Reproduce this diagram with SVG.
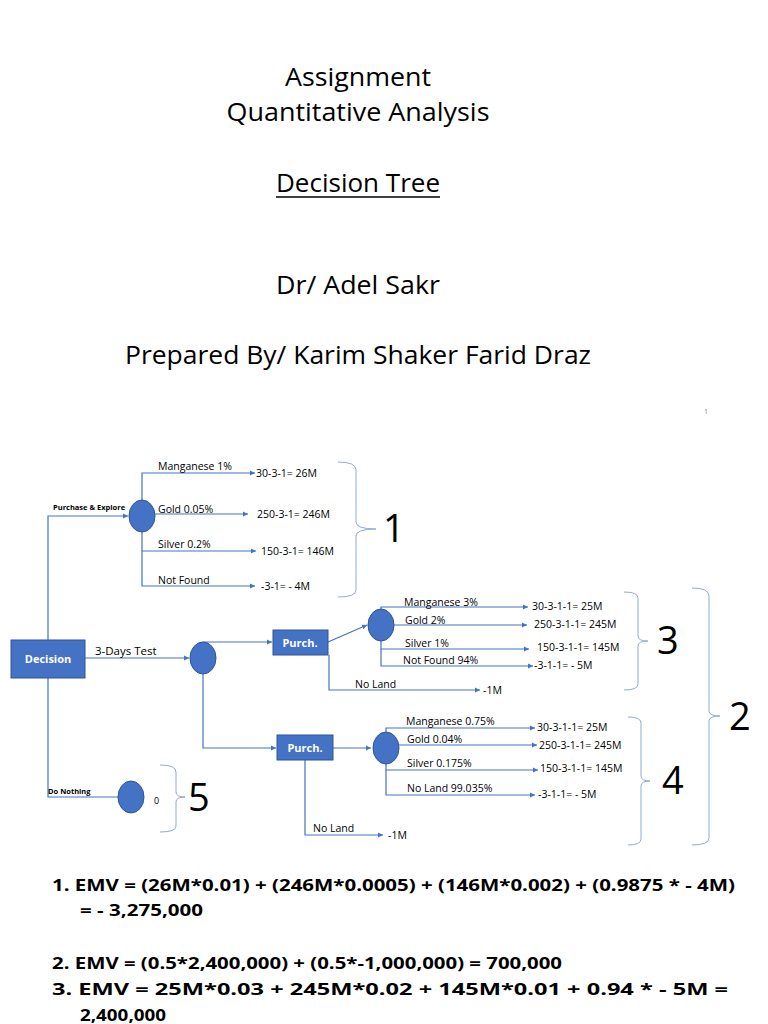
<svg xmlns="http://www.w3.org/2000/svg" width="768" height="1024" viewBox="0 0 768 1024">
<defs>
<marker id="ar" markerWidth="6" markerHeight="6" refX="5" refY="3" orient="auto" markerUnits="userSpaceOnUse"><path d="M0,0.5 L5,3 L0,5.5z" fill="#4472C4"/></marker>
<style>
text{font-family:"Open Sans","Liberation Sans",sans-serif;fill:#000}
.t{font-size:25px;text-anchor:middle}
.s{font-size:10.5px}
.xs{font-size:7.5px;font-weight:bold}
.w{font-size:11px;fill:#fff;font-weight:bold;text-anchor:middle}
.big{font-size:38px}
.b{font-size:16.5px;font-weight:bold}
.c{stroke:#4472C4;stroke-width:1.2;fill:none}
.a{marker-end:url(#ar)}
.n{fill:#4472C4;stroke:#2F5597;stroke-width:1}
.br{stroke:#8EA9DB;stroke-width:1;fill:none}
</style>
</defs>
<rect width="768" height="1024" fill="#fff"/>
<text class="t" x="358" y="86" textLength="146" lengthAdjust="spacingAndGlyphs">Assignment</text>
<text class="t" x="358" y="121" textLength="263" lengthAdjust="spacingAndGlyphs">Quantitative Analysis</text>
<text class="t" x="358" y="192" textLength="164" lengthAdjust="spacingAndGlyphs">Decision Tree</text>
<line x1="276" y1="197" x2="440" y2="197" stroke="#000" stroke-width="1.5"/>
<text class="t" x="358" y="294" textLength="164" lengthAdjust="spacingAndGlyphs">Dr/ Adel Sakr</text>
<text class="t" x="358" y="364" textLength="466" lengthAdjust="spacingAndGlyphs">Prepared By/ Karim Shaker Farid Draz</text>
<text x="704" y="414" style="font-size:7px;fill:#888">1</text>

<g id="connectors">
<path class="c a" d="M48,640 V516 H128"/>
<path class="c a" d="M142,500 V473 H255"/>
<path class="c a" d="M155,514 H248"/>
<path class="c a" d="M142,532 V551 H256"/>
<path class="c a" d="M142,551 V586 H255"/>
<path class="c a" d="M85,658 H189"/>
<path class="c a" d="M203,642 H272"/>
<path class="c a" d="M203,674 V748 H276"/>
<path class="c a" d="M328,642 L367,625"/>
<path class="c a" d="M381,609 V607 H528"/>
<path class="c a" d="M394,625 H527"/>
<path class="c a" d="M381,641 V649 H529"/>
<path class="c a" d="M381,649 V666 H533"/>
<path class="c a" d="M329,655 V690 H480"/>
<path class="c a" d="M333,748 H371"/>
<path class="c a" d="M386,732 V728 H535"/>
<path class="c a" d="M399,745 H537"/>
<path class="c a" d="M386,764 V770 H538"/>
<path class="c a" d="M386,770 V795 H535"/>
<path class="c a" d="M305,760 V835 H383"/>
<path class="c" d="M48,678 V797 H118"/>
</g>

<g id="labels">
<text class="xs" x="53" y="510">Purchase &amp; Explore</text>
<text class="s" x="158" y="470">Manganese 1%</text>
<text class="s" x="158" y="513">Gold 0.05%</text>
<text class="s" x="158" y="548">Silver 0.2%</text>
<text class="s" x="158" y="584">Not Found</text>
<text class="s" x="256" y="477">30-3-1= 26M</text>
<text class="s" x="257" y="518">250-3-1= 246M</text>
<text class="s" x="261" y="555">150-3-1= 146M</text>
<text class="s" x="261" y="590">-3-1= - 4M</text>
<text x="95" y="655" style="font-size:11.5px">3-Days  Test</text>
<text class="s" x="404" y="606">Manganese 3%</text>
<text class="s" x="405" y="624">Gold 2%</text>
<text class="s" x="405" y="647">Silver 1%</text>
<text class="s" x="403" y="664">Not Found 94%</text>
<text class="s" x="532" y="610">30-3-1-1= 25M</text>
<text class="s" x="534" y="628">250-3-1-1= 245M</text>
<text class="s" x="537" y="651">150-3-1-1= 145M</text>
<text class="s" x="534" y="669">-3-1-1= - 5M</text>
<text class="s" x="355" y="688">No Land</text>
<text class="s" x="483" y="694">-1M</text>
<text class="s" x="406" y="725">Manganese 0.75%</text>
<text class="s" x="407" y="743">Gold  0.04%</text>
<text class="s" x="407" y="767">Silver  0.175%</text>
<text class="s" x="407" y="792">No Land  99.035%</text>
<text class="s" x="537" y="731">30-3-1-1= 25M</text>
<text class="s" x="539" y="749">250-3-1-1= 245M</text>
<text class="s" x="540" y="772">150-3-1-1= 145M</text>
<text class="s" x="538" y="798">-3-1-1= - 5M</text>
<text class="s" x="313" y="832">No Land</text>
<text class="s" x="388" y="839">-1M</text>
<text class="xs" x="48" y="794">Do Nothing</text>
<text x="154" y="804" style="font-size:9px">0</text>
</g>

<g id="decision"><rect class="n" x="11" y="640" width="74" height="38"/><text class="w" x="48" y="663">Decision</text></g>
<g id="chance1"><ellipse class="n" cx="142" cy="516" rx="13" ry="16"/></g>
<g id="chance2"><ellipse class="n" cx="203" cy="658" rx="13" ry="16"/></g>
<g id="purch1"><rect class="n" x="273" y="630" width="55" height="25"/><text class="w" x="300" y="647">Purch.</text></g>
<g id="purch2"><rect class="n" x="277" y="735" width="56" height="25"/><text class="w" x="305" y="752">Purch.</text></g>
<g id="chance3"><ellipse class="n" cx="381" cy="625" rx="13" ry="16"/></g>
<g id="chance4"><ellipse class="n" cx="386" cy="748" rx="13" ry="16"/></g>
<g id="chance5"><ellipse class="n" cx="131" cy="797" rx="13" ry="16"/></g>

<g id="braces">
<path class="br" d="M338,462 Q356,462 356,470 V522 Q356,529 376,529 Q356,529 356,536 V590 Q356,597 338,597"/>
<text class="big" x="383" y="542">1</text>
<path class="br" d="M624,592 Q638,592 638,598 V636 Q638,641 648,641 Q638,641 638,646 V684 Q638,690 624,690"/>
<text class="big" x="657" y="654">3</text>
<path class="br" d="M628,717 Q641,717 641,723 V776 Q641,781 650,781 Q641,781 641,786 V839 Q641,845 628,845"/>
<text class="big" x="662" y="794">4</text>
<path class="br" d="M692,588 Q709,588 709,596 V711 Q709,716 720,716 Q709,716 709,721 V838 Q709,845 692,845"/>
<text class="big" x="729" y="730">2</text>
<path class="br" d="M160,765 Q176,765 176,772 V792 Q176,797 185,797 Q176,797 176,802 V826 Q176,832 160,832"/>
<text class="big" x="188" y="811">5</text>
</g>

<g id="emv">
<text class="b" x="52" y="891" textLength="683" lengthAdjust="spacingAndGlyphs">1.  EMV = (26M*0.01) + (246M*0.0005) + (146M*0.002) + (0.9875 * - 4M)</text>
<text class="b" x="80" y="916" textLength="123" lengthAdjust="spacingAndGlyphs">= - 3,275,000</text>
<text class="b" x="52" y="969" textLength="510" lengthAdjust="spacingAndGlyphs">2.  EMV = (0.5*2,400,000) + (0.5*-1,000,000) = 700,000</text>
<text class="b" x="52" y="995" textLength="676" lengthAdjust="spacingAndGlyphs">3.  EMV = 25M*0.03 + 245M*0.02 + 145M*0.01 + 0.94 * - 5M  =</text>
<text class="b" x="80" y="1021" textLength="86" lengthAdjust="spacingAndGlyphs">2,400,000</text>
</g>
</svg>
